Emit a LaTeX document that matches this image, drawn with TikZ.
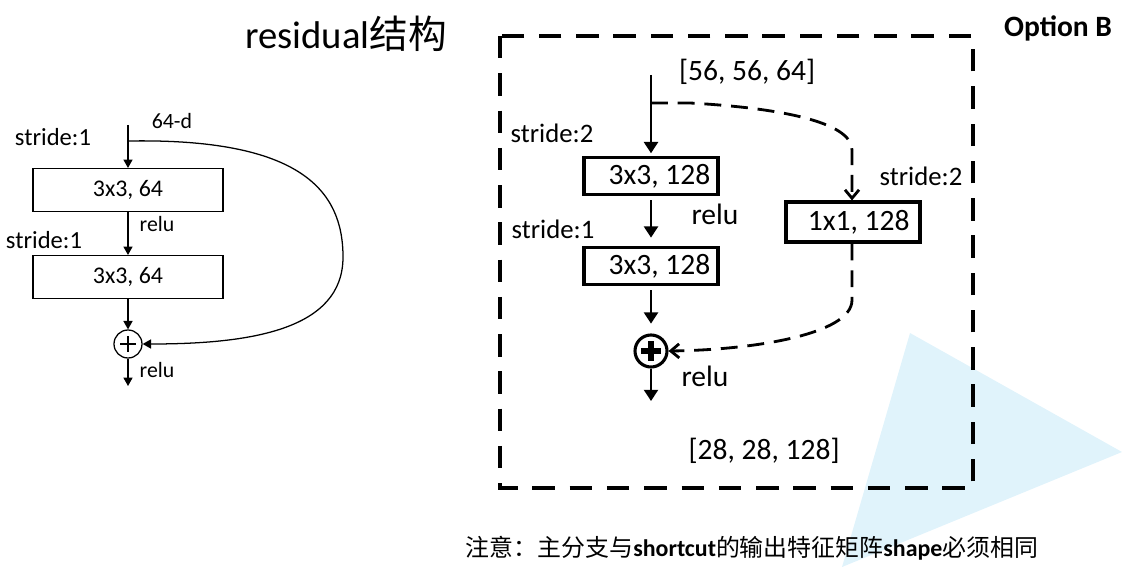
\documentclass[tikz,border=0pt]{standalone}
\usepackage{fontspec}
\setmainfont{Carlito}
\newfontfamily\zhfont{Noto Sans CJK SC}
\usepackage{xcolor}
\definecolor{slideblue}{RGB}{224,243,251}
\usetikzlibrary{arrows.meta,positioning}
\newcommand{\zh}[1]{{\zhfont #1}}
\newcommand{\fs}[1]{\fontsize{#1}{#1}\selectfont}
\tikzset{
  % left block (plain residual)
  convbox/.style={
    rectangle, draw, line width=0.9pt, inner sep=0pt,
    minimum width=4.75cm, minimum height=1.07cm, font=\fs{17}
  },
  sumnode/.style={circle, draw, line width=0.9pt, minimum size=0.7cm, inner sep=0pt},
  thinarrow/.style={-{Triangle[length=6pt,width=6.5pt]}, line width=0.9pt},
  smalllabel/.style={font=\fs{15.5}, inner sep=0pt},
  stridelabel/.style={font=\fs{17.5}, inner sep=0pt},
  % right block (option B)
  boldbox/.style={
    rectangle, draw, line width=2.2pt, inner sep=0pt,
    minimum width=3.35cm, minimum height=0.92cm, font=\fs{21}
  },
  boldsum/.style={circle, draw, line width=2.2pt, minimum size=0.8cm, inner sep=0pt},
  boldarrow/.style={-{Triangle[length=8pt,width=10pt]}, line width=1.6pt},
  skiparrow/.style={-{Straight Barb[length=6pt,width=10pt]}, line width=2pt,
    dash pattern=on 12pt off 7pt},
  biglabel/.style={font=\fs{21}, inner sep=0pt},
  framebox/.style={draw, line width=2.5pt, dash pattern=on 16pt off 10.5pt},
}

\begin{document}
\begin{tikzpicture}[x=0.025cm, y=-0.025cm]
  \useasboundingbox (0,0) rectangle (1128,571);

  % slide decoration behind everything
  \fill[slideblue] (910,333) -- (1122,452) -- (842,567) -- cycle;

  \node[font=\fs{27.5}, inner sep=0pt] (title) at (346,34) {residual\zh{结构}};
  \node[font=\fs{21}\bfseries, inner sep=0pt] (optb) at (1058,28) {Option B};

  % ---- left: residual block ----
  \coordinate (ltop) at (128,125);
  \coordinate (lsplit) at (128,141);
  \node[convbox] (lbox1) at (128,190) {3x3, 64};
  \node[convbox] (lbox2) at (128,277) {3x3, 64};
  \node[sumnode] (lsum) at (128,344) {};
  \draw[line width=0.9pt] (lsum.center) ++(-8,0) -- ++(16,0)
    (lsum.center) ++(0,-8) -- ++(0,16);
  \coordinate (lend) at (128,386);

  \node[smalllabel] (ldim) at (172,121) {64-d};
  \node[stridelabel] (lstride1) at (53,137) {stride:1};
  \node[smalllabel] (lrelu1) at (157,224) {relu};
  \node[stridelabel] (lstride2) at (44,240) {stride:1};
  \node[smalllabel] (lrelu2) at (157,370) {relu};

  \draw[thinarrow] (ltop) -- (lbox1);
  \draw[thinarrow] (lbox1) -- (lbox2);
  \draw[thinarrow] (lbox2) -- (lsum);
  \draw[thinarrow] (lsum) -- (lend);
  % identity shortcut swings out to the right
  \draw[thinarrow] (lsplit) .. controls (300,138) and (343,190) .. (343,257)
    .. controls (343,330) and (250,344) .. (lsum.east);

  % ---- right: option B ----
  \path[framebox] (500,36) rectangle (973,488);

  \node[biglabel] (rin) at (747,72) {[56, 56, 64]};
  \coordinate (rtop) at (651,75);
  \coordinate (rsplit) at (651,103);
  \node[boldbox] (rbox1) at (651,176) {\hspace{12pt}3x3, 128};
  \node[boldbox] (rbox2) at (651,266) {\hspace{12pt}3x3, 128};
  \node[boldbox, minimum height=1.0cm] (rbox3) at (853,222) {\hspace{8pt}1x1, 128};
  \node[boldsum] (rsum) at (651,351) {};
  \draw[line width=4.5pt] (rsum.center) ++(-10,0) -- ++(20,0)
    (rsum.center) ++(0,-10) -- ++(0,20);
  \coordinate (rend) at (651,401);
  \node[biglabel] (rout) at (764,451) {[28, 28, 128]};

  \node[biglabel, font=\fs{19}] (rstride1) at (552,133) {stride:2};
  \node[biglabel, font=\fs{19}] (rstride2) at (553,229) {stride:1};
  \node[biglabel, font=\fs{19}] (rstride3) at (921,176) {stride:2};
  \node[biglabel] (rrelu1) at (715,214) {relu};
  \node[biglabel] (rrelu2) at (705,376) {relu};

  \draw[boldarrow, shorten >=2pt] (rtop) -- (rbox1);
  \draw[boldarrow, shorten <=3pt, shorten >=6pt] (rbox1) -- (rbox2);
  \draw[boldarrow, shorten <=3pt, shorten >=7pt] (rbox2) -- (rsum);
  \draw[boldarrow] (rsum) -- (rend);
  % projection shortcut (1x1 conv, stride 2)
  \draw[skiparrow] (rsplit) -- (690,103) .. controls (780,108) and (852,122)
    .. (852,150) -- (rbox3.north -| 852,0);
  \draw[skiparrow] (rbox3.south -| 852,0) -- (852,300)
    .. controls (852,335) and (750,350) .. (rsum.east);

  \node[font=\fs{17}, inner sep=0pt] (note) at (752,548)
    {\zh{注意：主分支与}\textbf{shortcut}\zh{的输出特征矩阵}\textbf{shape}\zh{必须相同}};
\end{tikzpicture}
\end{document}
